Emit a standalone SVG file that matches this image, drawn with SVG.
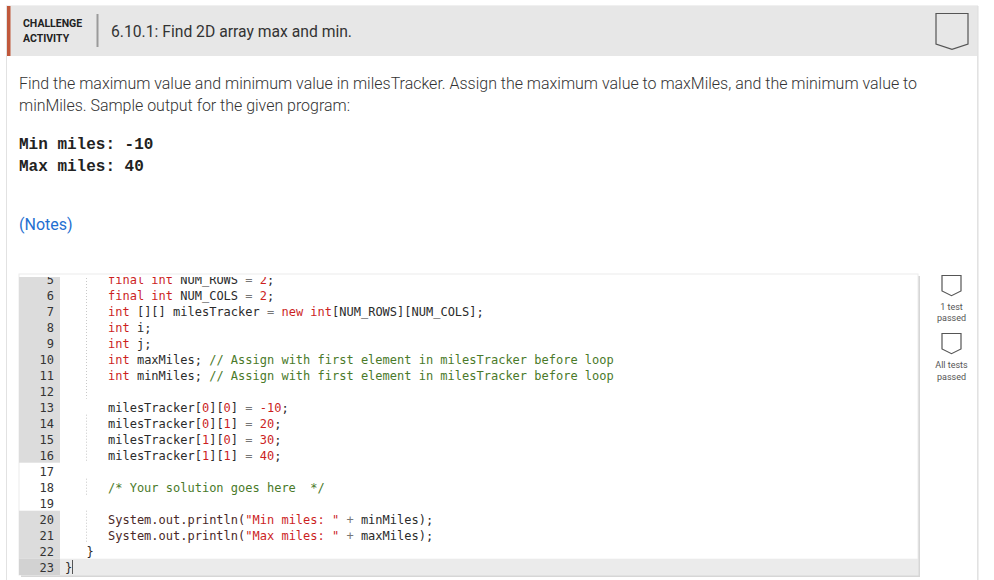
<svg xmlns="http://www.w3.org/2000/svg" width="994" height="580" viewBox="0 0 994 580">
<style>
.ui{font-family:Roboto,"Liberation Sans",sans-serif}
.body{font-family:Roboto,"Liberation Sans",sans-serif;font-size:16px;fill:#333;font-weight:300}
.out{font-family:"Liberation Mono","Courier New",monospace;font-size:16px;font-weight:bold;fill:#222}
.code{font-family:"DejaVu Sans Mono",monospace;font-size:12px;fill:#2b2b2b;white-space:pre}
.ln{font-family:"DejaVu Sans Mono",monospace;font-size:12px;fill:#333;text-anchor:end}
.kw{fill:#cc1f1f}
.num{fill:#cc1f1f}
.str{fill:#cc1f1f}
.op{fill:#777}
.cm{fill:#4a7a2a}
.fn{fill:#4a2828}
.badge{fill:none;stroke:#555;stroke-width:1.2}
.small{font-family:Roboto,"Liberation Sans",sans-serif;font-size:9px;fill:#555;text-anchor:middle}
.guide{stroke:#c8c8c8;stroke-width:1;stroke-dasharray:1 2}
</style>
<defs>
<clipPath id="codeclip"><rect x="19" y="277" width="899" height="298"/></clipPath>
</defs>
<rect width="994" height="580" fill="#fff"/>
<g id="card">
<rect x="6.5" y="6" width="971" height="580" fill="#fff" stroke="#e2e2e2"/>
<line x1="978.5" y1="6" x2="978.5" y2="580" stroke="#eeeeee"/>
</g>
<g id="header">
<rect x="7" y="6" width="970" height="50" fill="#e7e7e7"/>
<rect x="7" y="6" width="3.5" height="50" fill="#c0583b"/>
<text class="ui" x="23" y="27" font-size="10.5" font-weight="bold" fill="#222">CHALLENGE</text>
<text class="ui" x="23" y="42" font-size="10.5" font-weight="bold" fill="#222">ACTIVITY</text>
<line x1="97.5" y1="14" x2="97.5" y2="47" stroke="#9a9a9a" stroke-width="2"/>
<text class="ui" x="111" y="37" font-size="16" fill="#333" textLength="241" lengthAdjust="spacingAndGlyphs">6.10.1: Find 2D array max and min.</text>
<path class="badge" d="M936,13.5 H968 V44 L952,49.3 L936,44 Z"/>
</g>
<g id="description">
<text class="body" x="19" y="89" textLength="898" lengthAdjust="spacingAndGlyphs">Find the maximum value and minimum value in milesTracker. Assign the maximum value to maxMiles, and the minimum value to</text>
<text class="body" x="19" y="111" textLength="331" lengthAdjust="spacingAndGlyphs">minMiles. Sample output for the given program:</text>
<text class="out" x="19" y="149">Min miles: -10</text>
<text class="out" x="19" y="171">Max miles: 40</text>
<text class="ui" x="19" y="230" font-size="16" fill="#1f6fd1">(Notes)</text>
</g>
<g id="editor">
<rect x="21" y="276" width="899" height="301" fill="#d6d6d6"/>
<rect x="19" y="274" width="899" height="301" fill="#fff" stroke="#ececec"/>
<g clip-path="url(#codeclip)">
<rect x="19" y="266" width="41" height="196.7" fill="#dcdcdc"/>
<rect x="19" y="510.7" width="41" height="48" fill="#dcdcdc"/>
<rect x="60" y="558.7" width="858" height="16.3" fill="#ebebeb"/>
<rect x="19" y="558.7" width="41" height="16.3" fill="#d2d2d2"/>
<line class="guide" x1="86.5" y1="266" x2="86.5" y2="398.7"/>
<line class="guide" x1="86.5" y1="414.7" x2="86.5" y2="462.7"/>
<line class="guide" x1="86.5" y1="478.7" x2="86.5" y2="494.7"/>
<line class="guide" x1="86.5" y1="510.7" x2="86.5" y2="542.7"/>
<g id="linenumbers">
<text class="ln" x="54" y="284">5</text>
<text class="ln" x="54" y="300">6</text>
<text class="ln" x="54" y="316">7</text>
<text class="ln" x="54" y="332">8</text>
<text class="ln" x="54" y="348">9</text>
<text class="ln" x="54" y="364">10</text>
<text class="ln" x="54" y="380">11</text>
<text class="ln" x="54" y="396">12</text>
<text class="ln" x="54" y="412">13</text>
<text class="ln" x="54" y="428">14</text>
<text class="ln" x="54" y="444">15</text>
<text class="ln" x="54" y="460">16</text>
<text class="ln" x="54" y="476">17</text>
<text class="ln" x="54" y="492">18</text>
<text class="ln" x="54" y="508">19</text>
<text class="ln" x="54" y="524">20</text>
<text class="ln" x="54" y="540">21</text>
<text class="ln" x="54" y="556">22</text>
<text class="ln" x="54" y="572">23</text>
</g>
<g id="code">
<text class="code" x="108" y="284"><tspan class="kw">final</tspan> <tspan class="kw">int</tspan> NUM_ROWS <tspan class="op">=</tspan> <tspan class="num">2</tspan>;</text>
<text class="code" x="108" y="300"><tspan class="kw">final</tspan> <tspan class="kw">int</tspan> NUM_COLS <tspan class="op">=</tspan> <tspan class="num">2</tspan>;</text>
<text class="code" x="108" y="316"><tspan class="kw">int</tspan> [][] milesTracker <tspan class="op">=</tspan> <tspan class="kw">new</tspan> <tspan class="kw">int</tspan>[NUM_ROWS][NUM_COLS];</text>
<text class="code" x="108" y="332"><tspan class="kw">int</tspan> i;</text>
<text class="code" x="108" y="348"><tspan class="kw">int</tspan> j;</text>
<text class="code" x="108" y="364"><tspan class="kw">int</tspan> maxMiles; <tspan class="cm">// Assign with first element in milesTracker before loop</tspan></text>
<text class="code" x="108" y="380"><tspan class="kw">int</tspan> minMiles; <tspan class="cm">// Assign with first element in milesTracker before loop</tspan></text>
<text class="code" x="108" y="412">milesTracker[<tspan class="num">0</tspan>][<tspan class="num">0</tspan>] <tspan class="op">=</tspan> <tspan class="num">-10</tspan>;</text>
<text class="code" x="108" y="428">milesTracker[<tspan class="num">0</tspan>][<tspan class="num">1</tspan>] <tspan class="op">=</tspan> <tspan class="num">20</tspan>;</text>
<text class="code" x="108" y="444">milesTracker[<tspan class="num">1</tspan>][<tspan class="num">0</tspan>] <tspan class="op">=</tspan> <tspan class="num">30</tspan>;</text>
<text class="code" x="108" y="460">milesTracker[<tspan class="num">1</tspan>][<tspan class="num">1</tspan>] <tspan class="op">=</tspan> <tspan class="num">40</tspan>;</text>
<text class="code" x="108" y="492"><tspan class="cm">/* Your solution goes here  */</tspan></text>
<text class="code" x="108" y="524"><tspan class="fn">System.out.println(</tspan><tspan class="str">"Min miles: "</tspan> <tspan class="op">+</tspan> minMiles);</text>
<text class="code" x="108" y="540"><tspan class="fn">System.out.println(</tspan><tspan class="str">"Max miles: "</tspan> <tspan class="op">+</tspan> maxMiles);</text>
<text class="code" x="86.6" y="556">}</text>
<text class="code" x="65" y="572">}</text>
</g>
<line x1="72.5" y1="560" x2="72.5" y2="574" stroke="#555" stroke-width="1"/>
</g>
</g>
<g id="tests">
<path class="badge" d="M942,275.5 H961 V291 L951.5,295.7 L942,291 Z" fill="#fff"/>
<text class="small" x="951.5" y="310">1 test</text>
<text class="small" x="951.5" y="321">passed</text>
<path class="badge" d="M942,333.5 H961 V349 L951.5,353.7 L942,349 Z" fill="#fff"/>
<text class="small" x="951.5" y="368">All tests</text>
<text class="small" x="951.5" y="380">passed</text>
</g>
</svg>
